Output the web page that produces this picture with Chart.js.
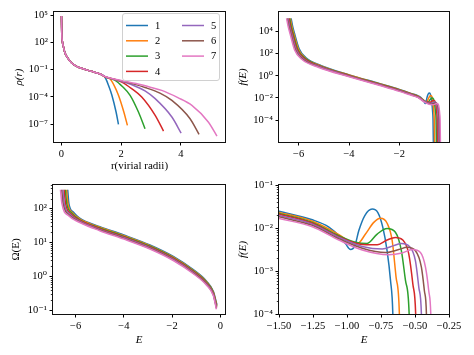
<!DOCTYPE html>
<html><head><meta charset="utf-8">
<script src="https://cdn.jsdelivr.net/npm/chart.js@4"></script>
<style>
html,body{margin:0;padding:0;background:#fff;}
#wrap{position:relative;width:474px;height:355px;overflow:hidden;background:#fff;}
canvas{position:absolute;}
</style></head><body>
<div id="wrap">
<canvas id="c1" width="237" height="177" style="left:0;top:0"></canvas>
<canvas id="c2" width="244" height="177" style="left:230px;top:0"></canvas>
<canvas id="c3" width="237" height="178" style="left:0;top:177px"></canvas>
<canvas id="c4" width="244" height="178" style="left:230px;top:177px"></canvas>
</div>
<script>
// ---------- series ----------
const seriesNames = ['1','2','3','4','5','6','7'];
const seriesColors = ['#1f77b4','#ff7f0e','#2ca02c','#d62728','#9467bd','#8c564b','#e377c2'];

// ---------- panel 1: rho(r) ----------
const rhoCoreR   = [0, 0.01, 0.03, 0.067, 0.11, 0.18, 0.35, 0.55, 0.75, 1.0, 1.3];
const rhoCoreVal = [7.9e4, 1.0e3, 126, 31.6, 7.9, 2.6, 0.48, 0.19, 0.112, 0.063, 0.0316];
const rhoTailR = [
  [1.46, 1.575, 1.69, 1.83, 1.91],
  [1.46, 1.63, 1.78, 1.91, 2.09, 2.21],
  [1.46, 1.8, 2.05, 2.3, 2.58, 2.8],
  [1.46, 1.75, 2.02, 2.35, 2.69, 3.14, 3.42],
  [1.46, 1.9, 2.36, 2.8, 3.14, 3.7, 4.01],
  [1.46, 2.0, 2.4, 2.8, 3.3, 3.7, 4.31, 4.61],
  [1.46, 2.0, 2.5, 3.0, 3.36, 3.9, 4.37, 4.92, 5.21]
];
const rhoTailVal = [
  [0.0141, 1.82e-3, 1.45e-4, 2.09e-6, 9.12e-8],
  [0.0151, 8.91e-3, 1.41e-3, 1.45e-4, 2.09e-6, 7.08e-8],
  [0.0158, 6.46e-3, 1.26e-3, 1.45e-4, 2.09e-6, 3.02e-8],
  [0.0162, 8.91e-3, 4.17e-3, 7.94e-4, 9.33e-5, 8.91e-7, 1.66e-8],
  [0.0166, 6.31e-3, 2.14e-3, 4.47e-4, 6.17e-5, 5.89e-7, 1.0e-8],
  [0.0166, 5.62e-3, 2.63e-3, 1.05e-3, 2.51e-4, 3.98e-5, 3.8e-7, 7.24e-9],
  [0.017, 6.31e-3, 2.82e-3, 1.07e-3, 5.01e-4, 7.94e-5, 1.12e-5, 1.66e-7, 4.68e-9]
];
const rhoXTicks = [0, 2, 4];
const rhoXLabels = ['0', '2', '4'];
const rhoYTicks = [1e-7, 1e-4, 1e-1, 1e2, 1e5];
const rhoYLabels = ['10⁻⁷', '10⁻⁴', '10⁻¹', '10²', '10⁵'];

// ---------- panels 2 & 4: f(E) ----------
const fE = [
  [-6.30, -6.24, -6.16, -5.98, -5.72, -5.1, -3.96, -2.77, -2.0, -1.5, -1.255, -1.133, -1.047, -1.01, -0.974, -0.942, -0.913, -0.869, -0.815, -0.773, -0.737, -0.705, -0.68, -0.663, -0.645],
  [-6.33, -6.27, -6.19, -6.01, -5.75, -5.12, -3.96, -2.77, -2.0, -1.5, -1.255, -1.06, -0.974, -0.925, -0.864, -0.803, -0.754, -0.705, -0.668, -0.639, -0.615, -0.60],
  [-6.36, -6.30, -6.22, -6.04, -5.77, -5.13, -3.96, -2.77, -2.0, -1.5, -1.255, -1.06, -0.937, -0.852, -0.778, -0.705, -0.644, -0.6, -0.57, -0.543, -0.525],
  [-6.39, -6.33, -6.25, -6.07, -5.8, -5.14, -3.96, -2.77, -2.0, -1.5, -1.255, -1.06, -0.913, -0.778, -0.705, -0.644, -0.59, -0.546, -0.516, -0.495, -0.475],
  [-6.42, -6.36, -6.28, -6.10, -5.83, -5.16, -3.96, -2.77, -2.0, -1.5, -1.255, -1.06, -0.888, -0.741, -0.656, -0.6, -0.541, -0.497, -0.472, -0.453, -0.435],
  [-6.45, -6.39, -6.31, -6.13, -5.86, -5.18, -3.96, -2.77, -2.0, -1.5, -1.255, -1.06, -0.888, -0.717, -0.619, -0.558, -0.497, -0.453, -0.431, -0.416, -0.40],
  [-6.48, -6.42, -6.34, -6.16, -5.89, -5.2, -3.96, -2.77, -2.0, -1.5, -1.255, -1.06, -0.888, -0.693, -0.595, -0.521, -0.46, -0.423, -0.399, -0.384, -0.365]
];
const fVal = [
  [1.58e5, 3.16e4, 6.31e3, 282, 45.7, 8.32, 1.17, 0.195, 0.0589, 2.44e-2, 1.55e-2, 1.05e-2, 6.03e-3, 4.27e-3, 3.16e-3, 3.89e-3, 8.71e-3, 1.95e-2, 2.75e-2, 2.29e-2, 1.05e-2, 2.95e-3, 6.03e-4, 1.0e-4, 1.0e-7],
  [1.58e5, 3.16e4, 6.31e3, 269, 43.7, 7.94, 1.12, 0.186, 0.055, 2.31e-2, 1.43e-2, 7.0e-3, 4.68e-3, 4.27e-3, 7.24e-3, 1.35e-2, 1.68e-2, 1.29e-2, 5.13e-3, 7.08e-4, 1.0e-4, 1.0e-7],
  [1.58e5, 3.16e4, 6.31e3, 257, 41.7, 7.41, 1.05, 0.174, 0.0525, 2.19e-2, 1.35e-2, 6.61e-3, 4.68e-3, 4.37e-3, 7.24e-3, 9.77e-3, 7.94e-3, 2.95e-3, 6.03e-4, 1.0e-4, 1.0e-7],
  [1.58e5, 3.16e4, 6.31e3, 251, 39.8, 7.08, 1.0, 0.166, 0.0501, 2.09e-2, 1.29e-2, 6.31e-3, 4.27e-3, 4.07e-3, 5.25e-3, 6.03e-3, 5.25e-3, 2.51e-3, 5.01e-4, 1.0e-4, 1.0e-7],
  [1.58e5, 3.16e4, 6.31e3, 240, 37.2, 6.61, 0.933, 0.155, 0.0468, 1.95e-2, 1.22e-2, 6.03e-3, 3.72e-3, 3.24e-3, 3.89e-3, 4.37e-3, 3.72e-3, 1.74e-3, 4.17e-4, 1.0e-4, 1.0e-7],
  [1.58e5, 3.16e4, 6.31e3, 229, 35.5, 6.17, 0.871, 0.145, 0.0437, 1.82e-2, 1.15e-2, 5.62e-3, 3.39e-3, 2.69e-3, 3.16e-3, 3.55e-3, 2.95e-3, 1.23e-3, 3.47e-4, 1.0e-4, 1.0e-7],
  [1.58e5, 3.16e4, 6.31e3, 219, 33.1, 5.62, 0.794, 0.132, 0.0398, 1.66e-2, 1.07e-2, 5.25e-3, 3.09e-3, 2.4e-3, 2.63e-3, 3.16e-3, 2.69e-3, 1.23e-3, 3.47e-4, 1.0e-4, 1.0e-7]
];
const fXTicks = [-6, -4, -2];
const fXLabels = ['−6', '−4', '−2'];
const fYTicks = [1e-4, 1e-2, 1, 1e2, 1e4];
const fYLabels = ['10⁻⁴', '10⁻²', '10⁰', '10²', '10⁴'];
const zXTicks = [-1.5, -1.25, -1.0, -0.75, -0.5, -0.25];
const zXLabels = ['−1.50', '−1.25', '−1.00', '−0.75', '−0.50', '−0.25'];
const zYTicks = [1e-4, 1e-3, 1e-2, 1e-1];
const zYLabels = ['10⁻⁴', '10⁻³', '10⁻²', '10⁻¹'];
const zYMinor = [2e-4,3e-4,4e-4,5e-4,6e-4,7e-4,8e-4,9e-4,2e-3,3e-3,4e-3,5e-3,6e-3,7e-3,8e-3,9e-3,2e-2,3e-2,4e-2,5e-2,6e-2,7e-2,8e-2,9e-2];

// ---------- panel 3: Omega(E) ----------
const omE = [
  [-6.33, -6.28, -6.10, -5.85, -5.0, -4.03, -2.92, -1.95, -1.12, -0.57, -0.29, -0.14],
  [-6.38, -6.32, -6.13, -5.85, -5.0, -4.03, -2.92, -1.95, -1.12, -0.57, -0.29, -0.145],
  [-6.43, -6.37, -6.16, -5.85, -5.0, -4.03, -2.92, -1.95, -1.12, -0.57, -0.29, -0.15],
  [-6.48, -6.42, -6.20, -5.85, -5.0, -4.03, -2.92, -1.95, -1.12, -0.57, -0.29, -0.15],
  [-6.53, -6.47, -6.23, -5.85, -5.0, -4.03, -2.92, -1.95, -1.12, -0.57, -0.29, -0.155],
  [-6.58, -6.52, -6.26, -5.85, -5.0, -4.03, -2.92, -1.95, -1.12, -0.57, -0.29, -0.16],
  [-6.63, -6.57, -6.29, -5.85, -5.0, -4.03, -2.92, -1.95, -1.12, -0.57, -0.29, -0.16]
];
const omVal = [
  [363, 141, 79.4, 53.7, 29.5, 17.0, 8.51, 3.89, 1.58, 0.724, 0.363, 0.145],
  [363, 141, 75.9, 51.3, 28.2, 16.2, 8.13, 3.72, 1.51, 0.692, 0.347, 0.138],
  [363, 141, 74.1, 47.9, 26.9, 15.5, 7.76, 3.55, 1.45, 0.661, 0.331, 0.132],
  [363, 141, 70.8, 45.7, 25.7, 14.8, 7.41, 3.39, 1.38, 0.631, 0.316, 0.126],
  [363, 141, 67.6, 43.7, 24.5, 14.1, 7.08, 3.24, 1.32, 0.603, 0.302, 0.120],
  [363, 141, 64.6, 41.7, 23.4, 13.5, 6.76, 3.09, 1.26, 0.575, 0.288, 0.115],
  [363, 141, 61.7, 39.8, 22.4, 12.9, 6.46, 2.95, 1.20, 0.550, 0.275, 0.107]
];
const omXTicks = [-6, -4, -2, 0];
const omXLabels = ['−6', '−4', '−2', '0'];
const omYTicks = [0.1, 1, 10, 100];
const omYLabels = ['10⁻¹', '10⁰', '10¹', '10²'];
const omYMinor = [0.2,0.3,0.4,0.5,0.6,0.7,0.8,0.9,2,3,4,5,6,7,8,9,20,30,40,50,60,70,80,90,200,300,400,500];

// ---------- drawing ----------
const FONT = "'Liberation Serif', 'DejaVu Serif', serif";

function makeSets(xsArr, ysArr) {
  return xsArr.map((xs, k) => ({
    label: seriesNames[k],
    data: xs.map((x, i) => ({ x: x, y: ysArr[k][i] })),
    borderColor: seriesColors[k],
    backgroundColor: seriesColors[k],
    borderWidth: 1.5,
    pointRadius: 0,
    fill: false,
    cubicInterpolationMode: 'monotone',
    order: seriesNames.length - k
  }));
}

function framePlugin(minorY, withLegend) {
  return {
    id: 'frame',
    afterDraw(chart) {
      const ctx = chart.ctx, a = chart.chartArea;
      ctx.save();
      if (minorY) {
        const ys = chart.scales.y;
        ctx.strokeStyle = '#000'; ctx.lineWidth = 0.8;
        ctx.beginPath();
        minorY.forEach(v => {
          const p = ys.getPixelForValue(v);
          if (p >= a.top - 0.5 && p <= a.bottom + 0.5) {
            const yy = Math.round(p) + 0.5;
            ctx.moveTo(a.left - 2.2, yy); ctx.lineTo(a.left, yy);
          }
        });
        ctx.stroke();
      }
      ctx.strokeStyle = '#111'; ctx.lineWidth = 1;
      ctx.strokeRect(a.left - 0.5, a.top - 0.5, a.right - a.left + 1, a.bottom - a.top + 1);
      if (withLegend) {
        const bx = 122.5, by = 13.5, bw = 97, bh = 67;
        ctx.beginPath();
        ctx.roundRect(bx, by, bw, bh, 2.5);
        ctx.fillStyle = 'rgba(255,255,255,0.85)'; ctx.fill();
        ctx.strokeStyle = '#d0d0d0'; ctx.lineWidth = 1; ctx.stroke();
        ctx.font = '10.5px ' + FONT;
        ctx.textBaseline = 'middle'; ctx.textAlign = 'left';
        chart.data.datasets.forEach((d, i) => {
          const col = i < 4 ? 0 : 1, row = i < 4 ? i : i - 4;
          const x0 = col ? 182 : 126, y = 25.5 + row * 15.3;
          ctx.strokeStyle = d.borderColor; ctx.lineWidth = 1.5;
          ctx.beginPath(); ctx.moveTo(x0, y); ctx.lineTo(x0 + 22, y); ctx.stroke();
          ctx.fillStyle = '#000';
          ctx.fillText(d.label, x0 + 29, y + 0.5);
        });
      }
      ctx.restore();
    }
  };
}

function makeChart(id, g) {
  const tickFont = { family: FONT, size: 10.5 };
  return new Chart(document.getElementById(id), {
    type: 'line',
    data: { datasets: g.datasets },
    options: {
      responsive: false, animation: false, devicePixelRatio: 1,
      layout: { padding: { left: 0, top: g.padT, right: g.padR, bottom: 0 }, autoPadding: false },
      plugins: { legend: { display: false }, tooltip: { enabled: false } },
      scales: {
        x: {
          type: 'linear', position: 'bottom', min: g.xMin, max: g.xMax, bounds: 'data',
          afterBuildTicks: s => { s.ticks = g.xTicks.map(v => ({ value: v })); },
          afterFit: s => { s.height = g.xH; s.paddingLeft = 0; s.paddingRight = 0; s.paddingTop = 0; s.paddingBottom = 0; },
          ticks: { autoSkip: false, maxRotation: 0, minRotation: 0, padding: 2.5, color: '#000', font: tickFont,
                   callback: (v, i) => g.xLabels[i] },
          grid: { display: true, drawOnChartArea: false, drawTicks: true, tickLength: 3.5, color: '#000', lineWidth: 1 },
          border: { display: false },
          title: { display: true, text: g.xTitle, color: '#000',
                   font: { family: FONT, size: 11, style: g.xItalic ? 'italic' : 'normal' },
                   padding: { top: 0, bottom: g.xTitlePad } }
        },
        y: {
          type: 'logarithmic', position: 'left', min: g.yMin, max: g.yMax, bounds: 'data',
          afterBuildTicks: s => { s.ticks = g.yTicks.map(v => ({ value: v })); },
          afterFit: s => { s.width = g.yW; s.paddingLeft = 0; s.paddingRight = 0; s.paddingTop = 0; s.paddingBottom = 0; },
          ticks: { autoSkip: false, padding: 2.5, color: '#000', font: tickFont,
                   callback: (v, i) => g.yLabels[i] },
          grid: { display: true, drawOnChartArea: false, drawTicks: true, tickLength: 3.5, color: '#000', lineWidth: 1 },
          border: { display: false },
          title: { display: true, text: g.yTitle, color: '#000',
                   font: { family: FONT, size: 11, style: g.yItalic ? 'italic' : 'normal' },
                   padding: { top: g.yTitlePad, bottom: 0 } }
        }
      }
    },
    plugins: [framePlugin(g.minorY, g.legend)]
  });
}

makeChart('c1', {
  datasets: makeSets(rhoTailR.map(t => rhoCoreR.concat(t)), rhoTailVal.map(t => rhoCoreVal.concat(t))),
  padT: 12, padR: 12, yW: 54, xH: 35,
  xMin: -0.25, xMax: 5.48, xTicks: rhoXTicks, xLabels: rhoXLabels, xTitle: 'r(virial radii)', xItalic: false, xTitlePad: 4.4,
  yMin: 1.05e-9, yMax: 2.14e5, yTicks: rhoYTicks, yLabels: rhoYLabels, yTitle: 'ρ(r)', yItalic: true, yTitlePad: 12.4,
  minorY: null, legend: true
});

makeChart('c2', {
  datasets: makeSets(fE, fVal),
  padT: 12, padR: 25, yW: 49, xH: 35,
  xMin: -6.78, xMax: -0.03, xTicks: fXTicks, xLabels: fXLabels, xTitle: '', xItalic: true, xTitlePad: 4.4,
  yMin: 1.05e-6, yMax: 5.9e5, yTicks: fYTicks, yLabels: fYLabels, yTitle: 'f(E)', yItalic: true, yTitlePad: 6.4,
  minorY: null, legend: false
});

makeChart('c3', {
  datasets: makeSets(omE, omVal),
  padT: 8, padR: 12, yW: 53, xH: 41,
  xMin: -6.94, xMax: 0.195, xTicks: omXTicks, xLabels: omXLabels, xTitle: 'E', xItalic: true, xTitlePad: 8.4,
  yMin: 0.0776, yMax: 501, yTicks: omYTicks, yLabels: omYLabels, yTitle: 'Ω(E)', yItalic: false, yTitlePad: 9.4,
  minorY: omYMinor, legend: false
});

makeChart('c4', {
  datasets: makeSets(fE, fVal),
  padT: 8, padR: 25, yW: 49, xH: 41,
  xMin: -1.5, xMax: -0.25, xTicks: zXTicks, xLabels: zXLabels, xTitle: 'E', xItalic: true, xTitlePad: 8.4,
  yMin: 1e-4, yMax: 1e-1, yTicks: zYTicks, yLabels: zYLabels, yTitle: 'f(E)', yItalic: true, yTitlePad: 6.4,
  minorY: zYMinor, legend: false
});
</script>
</body></html>
